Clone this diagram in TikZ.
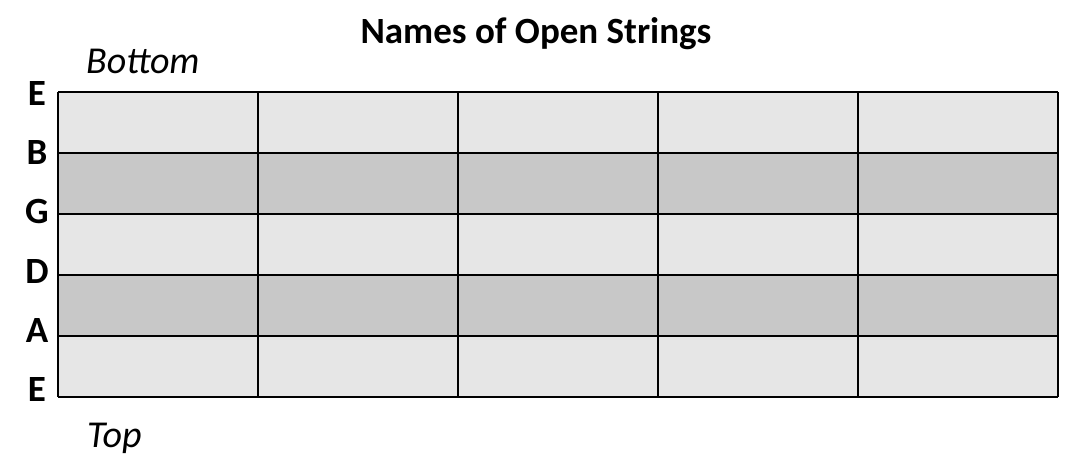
\documentclass[tikz,border=0pt]{standalone}
\usepackage{fontspec}
\setmainfont{Carlito}
\definecolor{lightrow}{HTML}{E6E6E6}
\definecolor{darkrow}{HTML}{C8C8C8}
\tikzstyle{stringname} = [anchor=base, font=\fontsize{37}{37}\selectfont\bfseries, inner sep=0pt]
\tikzstyle{title} = [anchor=base, font=\fontsize{37}{37}\selectfont\bfseries, inner sep=0pt]
\tikzstyle{side} = [anchor=base west, font=\fontsize{38}{38}\selectfont\itshape, inner sep=0pt]
\tikzstyle{gridline} = [line width=2pt, draw=black]

\begin{document}
\begin{tikzpicture}[x=1pt, y=-1pt]
			\useasboundingbox (0,0) rectangle (1071,467);
			\node (title) [title] at (536,43) {Names of Open Strings};
			\node (bottom) [side] at (86,73) {Bottom};
			\node (top) [side] at (87,447) {Top};
			
			% rows of the neck
			\foreach \r/\c in {0/lightrow,1/darkrow,2/lightrow,3/darkrow,4/lightrow}
				\fill [\c] (58,92+61*\r) rectangle (1058,153+61*\r);
			\foreach \r in {0,...,5}
				\draw [gridline] (58,92+61*\r) -- (1058,92+61*\r);
			\foreach \k in {0,...,5}
				\draw [gridline] (58+200*\k,92) -- (58+200*\k,397);
			
			% open strings
			\node (e1) [stringname] at (37,105) {E};
			\node (b) [stringname] at (37,164) {B};
			\node (g) [stringname] at (37,223) {G};
			\node (d) [stringname] at (37,283) {D};
			\node (a) [stringname] at (37,342) {A};
			\node (e6) [stringname] at (37,401) {E};
			
		\end{tikzpicture}
\end{document}
